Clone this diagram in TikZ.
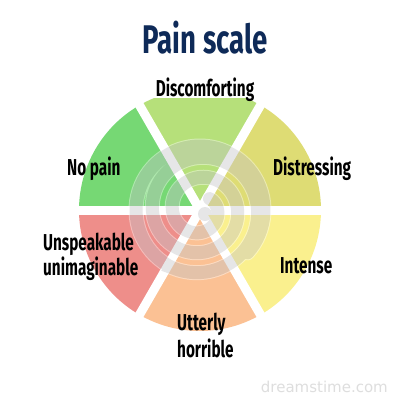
\documentclass[tikz,border=0pt]{standalone}
\usepackage{fontspec}
\newfontfamily\lblfont{Fira Sans}[FakeStretch=0.665]
\newfontfamily\ttlfont{Fira Sans}[FakeStretch=0.69]
\newfontfamily\wmfont{DejaVu Sans}
\definecolor{cnopain}{HTML}{76D874}
\definecolor{cdiscom}{HTML}{B6E07A}
\definecolor{cdistr}{HTML}{DEDC74}
\definecolor{cintense}{HTML}{FAF08E}
\definecolor{cutter}{HTML}{FBC194}
\definecolor{cunspeak}{HTML}{EE8E8A}
\definecolor{ctitle}{HTML}{0E2A58}
\definecolor{cwm}{HTML}{C4C4C8}
\tikzset{
  lbl/.style={font=\lblfont\bfseries\fontsize{23}{26}\selectfont, text=black, inner sep=0pt},
  gapline/.style={white, line width=9pt},
  wmedge/.style={white, line width=15pt, line cap=round},
  wmband/.style={cwm, line width=13pt, line cap=round},
}
\newcommand{\piesector}[3]{\fill[#1] (200,-210) -- +(#2:121) arc[start angle=#2, end angle=#3, radius=121] -- cycle;}
\newcommand{\wmspiral}[1]{\draw[#1, shift={(200,-210)}] plot[domain=-42:245, samples=60, variable=\t] (\t:64) -- plot[domain=245:1130, samples=180, variable=\t] (\t:{64-(\t-245)/18});}
\begin{document}
\begin{tikzpicture}[x=1pt,y=1pt]
\useasboundingbox (0,0) rectangle (400,-400);
\fill[white] (0,0) rectangle (400,-400);
\coordinate (c) at (200,-210);
\piesector{cnopain}{120}{180}
\begin{scope}
  \clip (0,-98) rectangle (400,-400);
  \piesector{cdiscom}{60}{120}
\end{scope}
\piesector{cdistr}{0}{60}
\piesector{cintense}{-60}{0}
\piesector{cutter}{-120}{-60}
\piesector{cunspeak}{180}{240}
\draw[gapline] ([shift={(0:130)}]c) -- ([shift={(180:130)}]c);
\draw[gapline] ([shift={(60:130)}]c) -- ([shift={(240:130)}]c);
\draw[gapline] ([shift={(120:130)}]c) -- ([shift={(300:130)}]c);
\begin{scope}[transparency group, opacity=0.42]
\wmspiral{wmedge}
\wmspiral{wmband}
\fill[cwm] (205,-214) circle (7);
\end{scope}
\node[font=\ttlfont\bfseries\fontsize{40}{44}\selectfont, text=ctitle, inner sep=0pt, anchor=base] (title) at (205,-53) {Pain scale};
\node[lbl, anchor=base] (l2) at (205,-96) {Discomforting};
\node[lbl, anchor=base west] (l1) at (67,-175) {No pain};
\node[lbl, anchor=base west] (l3) at (273,-175) {Distressing};
\node[lbl, anchor=base west] (l4) at (280,-273) {Intense};
\node[lbl, anchor=base west] (l6a) at (43,-250) {Unspeakable};
\node[lbl, anchor=base west] (l6b) at (43,-275) {unimaginable};
\node[lbl, anchor=base west] (l5a) at (177,-330) {Utterly};
\node[lbl, anchor=base west] (l5b) at (177,-357) {horrible};
\node[font=\wmfont\fontsize{15}{17}\selectfont, text=black!13, inner sep=0pt, anchor=base east] (wm) at (388,-392) {dreamstime.com};
\end{tikzpicture}
\end{document}
